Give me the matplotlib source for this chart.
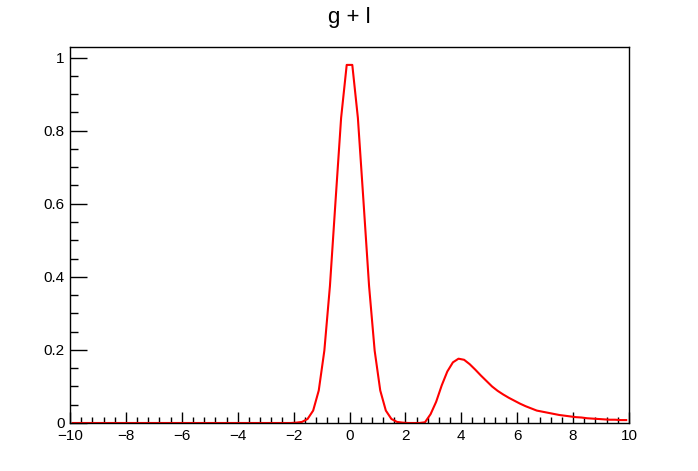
import numpy as np
import matplotlib.pyplot as plt
from matplotlib.ticker import MultipleLocator

plt.rcParams['font.family'] = ['Liberation Sans', 'DejaVu Sans']

# sampling grid of the function (bin centres, 100 points from -10 to 10)
x = np.linspace(-9.9, 9.9, 100)

# g + l
flat_left = [0.0] * 40                      # x = -9.9 ... -2.1
gaus_part = [0.001, 0.003, 0.011, 0.034, 0.089, 0.198, 0.375, 0.607, 0.835, 0.980,
             0.980, 0.835, 0.607, 0.375, 0.198, 0.089, 0.034, 0.011, 0.003, 0.001]
flat_mid = [0.0, 0.0, 0.0]                  # x = 2.1 ... 2.5
landau_part = [0.002, 0.024, 0.058, 0.103, 0.141, 0.166, 0.176, 0.173, 0.161, 0.146,
               0.130, 0.115, 0.100, 0.088, 0.078, 0.069, 0.061, 0.053, 0.046, 0.040,
               0.034, 0.031, 0.028, 0.025, 0.022, 0.020, 0.018, 0.016, 0.015, 0.013,
               0.012, 0.011, 0.010, 0.009, 0.009, 0.008, 0.008]
y = np.array(flat_left + gaus_part + flat_mid + landau_part)

fig = plt.figure(figsize=(6.98, 4.71), dpi=100)
ax = fig.add_axes([70 / 698, 1 - 423 / 471, 559 / 698, 376 / 471])

ax.plot(x, y, color='red', linewidth=1.5)

ax.set_xlim(-10, 10)
ax.set_ylim(0, 1.029)
ax.xaxis.set_major_locator(MultipleLocator(2))
ax.xaxis.set_minor_locator(MultipleLocator(0.4))
ax.yaxis.set_major_locator(MultipleLocator(0.2))
ax.yaxis.set_minor_locator(MultipleLocator(0.05))
ax.set_yticks([0, 0.2, 0.4, 0.6, 0.8, 1])
ax.set_yticklabels(['0', '0.2', '0.4', '0.6', '0.8', '1'])

ax.tick_params(axis='both', which='both', direction='in', top=False, right=False,
               labelsize=11, width=1)
ax.tick_params(axis='x', which='major', length=8.2, pad=4)
ax.tick_params(axis='x', which='minor', length=4.1)
ax.tick_params(axis='y', which='major', length=12, pad=4)
ax.tick_params(axis='y', which='minor', length=6)
for s in ax.spines.values():
    s.set_linewidth(1)

fig.text(0.5, 1 - 17 / 471, 'g + l', ha='center', va='center', fontsize=16)

fig.savefig('out.png', dpi=100)
